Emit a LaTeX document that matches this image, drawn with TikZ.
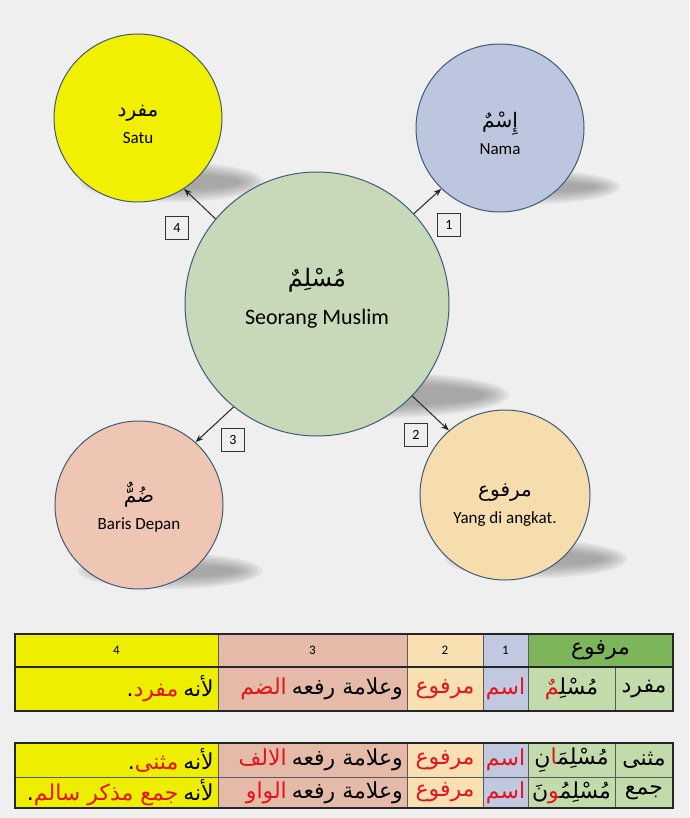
\documentclass[tikz,border=0pt]{standalone}
\usepackage{fontspec}
\setmainfont{Carlito}
\newfontfamily\arabicfont[Script=Arabic]{DejaVu Sans}
\TeXXeTstate=1
\usetikzlibrary{arrows.meta}

\definecolor{pagegray}{HTML}{EFEFEF}
\definecolor{edgeblue}{HTML}{3F5B75}
\definecolor{shadowgray}{HTML}{6E6E6E}
\definecolor{muslimgreen}{HTML}{C7D9B8}
\definecolor{isimblue}{HTML}{BCC6DE}
\definecolor{mufradyellow}{HTML}{F0F000}
\definecolor{dammpink}{HTML}{EEC6B3}
\definecolor{marfupeach}{HTML}{F6DDAD}
\definecolor{cellyellow}{HTML}{EEEE00}
\definecolor{cellpink}{HTML}{E6BAA8}
\definecolor{cellpeach}{HTML}{F9E0B3}
\definecolor{cellblue}{HTML}{C0C9DF}
\definecolor{celldarkgreen}{HTML}{7DB65A}
\definecolor{cellgreen}{HTML}{C2DBAA}
\definecolor{arred}{HTML}{E3131B}

% one right-to-left run; coloured runs are set side by side, left to right
\newcommand\artext[1]{{\arabicfont\beginR #1\endR}}
\newcommand\redtext[1]{\textcolor{arred}{\artext{#1}}}
\newcommand\zwj{\char"200D\relax}

\begin{document}
\begin{tikzpicture}[x=1pt, y=-1pt,
  bubble/.style={circle, draw=edgeblue, line width=1pt, inner sep=0pt},
  bubbletext/.style={align=center, inner sep=0pt, font=\fontsize{17}{20}\selectfont},
  numbox/.style={draw=black!80, line width=0.9pt, minimum size=23pt,
    inner sep=0pt, font=\fontsize{14}{14}\selectfont},
  link/.style={-{Stealth[length=8pt, width=6pt]}, line width=1pt, black!85},
  headnum/.style={inner sep=0pt, font=\fontsize{13}{13}\selectfont},
  cell/.style={inner sep=0pt, font=\fontsize{22}{24}\selectfont},
  cellrule/.style={line width=0.7pt, black!65},
  tablerule/.style={line width=1.2pt, black!85}]

  % Page
  \fill[pagegray] (0,0) rectangle (689,818);
  \useasboundingbox (0,0) rectangle (689,818);

  % Soft shadows under the circles
  \foreach \cx/\cy/\rx/\ry in {172/182/92/20, 530/187/90/17, 375/395/134/23,
      170/571/92/18, 536/559/91/19}
    \foreach \k in {0,...,6}
      \fill[shadowgray, opacity=0.1] (\cx,\cy)
        ellipse [x radius={\rx*1pt-\k*4pt}, y radius={\ry*1pt-\k*2pt}];

  % Circles
  \node[bubble, fill=muslimgreen, minimum size=264pt] (muslim) at (317,304) {};
  \node[bubble, fill=mufradyellow, minimum size=168pt] (mufrad) at (138,118) {};
  \node[bubble, fill=isimblue, minimum size=168pt] (isim) at (500,128) {};
  \node[bubble, fill=dammpink, minimum size=168pt] (damm) at (139,505) {};
  \node[bubble, fill=marfupeach, minimum size=170pt] (marfu) at (505,495) {};

  % Their texts
  \node[bubbletext] (muslimtext) at ([yshift=6pt]muslim.center)
    {{\fontsize{24}{30}\selectfont\artext{مُسْلِمٌ}}\\[16pt]
     {\fontsize{22}{26}\selectfont Seorang Muslim}};
  \node[bubbletext] (mufradtext) at ([yshift=-6pt]mufrad.center)
    {{\fontsize{20}{24}\selectfont\artext{مفرد}}\\[7pt] Satu};
  \node[bubbletext] (isimtext) at ([yshift=-5pt]isim.center)
    {{\fontsize{20}{24}\selectfont\artext{إِسْمٌ}}\\[7pt] Nama};
  \node[bubbletext] (dammtext) at ([yshift=-2pt]damm.center)
    {{\fontsize{20}{24}\selectfont\artext{ضُمٌّ}}\\[7pt] Baris Depan};
  \node[bubbletext] (marfutext) at ([yshift=-10pt]marfu.center)
    {{\fontsize{20}{24}\selectfont\artext{مرفوع}}\\[7pt] Yang di angkat.};

  % Arrows and their numbers
  \draw[link] (muslim.43) -- (isim.-134);
  \draw[link] (muslim.-44) -- (marfu.131);
  \draw[link] (muslim.231) -- (damm.48);
  \draw[link] (muslim.140) -- (mufrad.-57);

  \node[numbox] (n1) at (449,225) {1};
  \node[numbox] (n2) at (416,435) {2};
  \node[numbox] (n3) at (233,440) {3};
  \node[numbox] (n4) at (177,228) {4};

  % Table 1
  \fill[cellyellow] (15,634) rectangle (218,711);
  \fill[cellpink] (218,634) rectangle (407,711);
  \fill[cellpeach] (407,634) rectangle (483,711);
  \fill[cellblue] (483,634) rectangle (528,711);
  \fill[celldarkgreen] (528,634) rectangle (673,667);
  \fill[cellgreen] (528,667) rectangle (673,711);
  \foreach \x in {218,407,483,528}
    \draw[cellrule] (\x,634) -- (\x,711);
  \draw[cellrule] (615,667) -- (615,711);
  \draw[tablerule] (15,667) -- (673,667);
  \draw[tablerule] (15,634) rectangle (673,711);

  \node[headnum] (h4) at (116.5,650.5) {4};
  \node[headnum] (h3) at (312.5,650.5) {3};
  \node[headnum] (h2) at (445,650.5) {2};
  \node[headnum] (h1) at (505.5,650.5) {1};
  \node[cell] (hmarfu) at (600.5,650.5) {\artext{مرفوع}};

  \node[cell] (a6) at (644,689) {\artext{مفرد}};
  \node[cell] (a5) at (571.5,689) {\redtext{\zwj مٌ}\artext{مُسْلِ\zwj}};
  \node[cell] (a4) at (505.5,689) {\redtext{اسم}};
  \node[cell] (a3) at (445,689) {\redtext{مرفوع}};
  \node[cell, anchor=east] (a2) at (403,689)
    {\redtext{الضم}\ \artext{وعلامة رفعه}};
  \node[cell, anchor=east] (a1) at (214,689)
    {\artext{.}\redtext{مفرد}\ \artext{لأنه}};

  % Table 2
  \fill[cellyellow] (15,743) rectangle (218,808);
  \fill[cellpink] (218,743) rectangle (407,808);
  \fill[cellpeach] (407,743) rectangle (483,808);
  \fill[cellblue] (483,743) rectangle (528,808);
  \fill[cellgreen] (528,743) rectangle (673,808);
  \foreach \x in {218,407,483,528,615}
    \draw[cellrule] (\x,743) -- (\x,808);
  \draw[cellrule] (15,777) -- (673,777);
  \draw[tablerule] (15,743) rectangle (673,808);

  \node[cell] (b6) at (644,760) {\artext{مثنى}};
  \node[cell] (b5) at (571.5,760) {\artext{نِ}\redtext{\zwj ا}\artext{مُسْلِمَ\zwj}};
  \node[cell] (b4) at (505.5,760) {\redtext{اسم}};
  \node[cell] (b3) at (445,760) {\redtext{مرفوع}};
  \node[cell, anchor=east] (b2) at (403,760)
    {\redtext{الالف}\ \artext{وعلامة رفعه}};
  \node[cell, anchor=east] (b1) at (214,760)
    {\artext{.}\redtext{مثنى}\ \artext{لأنه}};

  \node[cell] (c6) at (644,792.5) {\artext{جمع}};
  \node[cell] (c5) at (571.5,792.5) {\artext{نَ}\redtext{\zwj و}\artext{مُسْلِمُ\zwj}};
  \node[cell] (c4) at (505.5,792.5) {\redtext{اسم}};
  \node[cell] (c3) at (445,792.5) {\redtext{مرفوع}};
  \node[cell, anchor=east] (c2) at (403,792.5)
    {\redtext{الواو}\ \artext{وعلامة رفعه}};
  \node[cell, anchor=east] (c1) at (214,792.5)
    {\artext{.}\redtext{جمع مذكر سالم}\ \artext{لأنه}};
\end{tikzpicture}
\end{document}
